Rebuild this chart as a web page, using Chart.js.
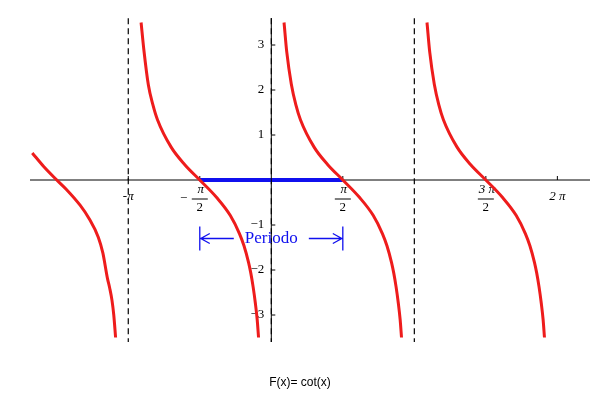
<!DOCTYPE html>
<html>
<head>
<meta charset="utf-8">
<script src="https://cdn.jsdelivr.net/npm/chart.js@4/dist/chart.umd.min.js"></script>
<style>
  body { margin: 0; background: #fff; }
  #wrap { width: 603px; height: 405px; }
</style>
</head>
<body>
<div id="wrap"><canvas id="c"></canvas></div>
<script>
const PI = Math.PI;

// branches of cot(x)
const branch1X = [-5.25, -5.0, -4.712, -4.5, -4.2, -4.0, -3.8, -3.7, -3.6, -3.55, -3.5, -3.46, -3.42];
const branch1Y = [0.60, 0.30, 0, -0.21, -0.56, -0.86, -1.27, -1.62, -2.18, -2.4, -2.67, -3.0, -3.5];
const branch2X = [-2.86, -2.8, -2.7, -2.6, -2.5, -2.2, -1.9, -1.571, -1.2, -0.9, -0.7, -0.6, -0.5, -0.45, -0.4, -0.35, -0.31, -0.28];
const branch2Y = [3.5, 2.9, 2.11, 1.67, 1.34, 0.73, 0.34, 0, -0.39, -0.79, -1.19, -1.46, -1.83, -2.07, -2.37, -2.74, -3.1, -3.5];
const branch3X = [0.28, 0.34, 0.44, 0.54, 0.64, 0.94, 1.24, 1.571, 1.94, 2.24, 2.44, 2.54, 2.64, 2.69, 2.74, 2.79, 2.83, 2.86];
const branch3Y = [3.5, 2.84, 2.13, 1.67, 1.34, 0.73, 0.34, 0, -0.39, -0.79, -1.19, -1.46, -1.83, -2.07, -2.37, -2.74, -3.1, -3.5];
const branch4X = [3.42, 3.48, 3.58, 3.68, 3.78, 4.08, 4.38, 4.712, 5.08, 5.38, 5.58, 5.68, 5.78, 5.83, 5.88, 5.93, 5.97, 6.0];
const branch4Y = [3.5, 2.84, 2.13, 1.67, 1.34, 0.73, 0.34, 0, -0.39, -0.79, -1.19, -1.46, -1.83, -2.07, -2.37, -2.74, -3.1, -3.5];

const asymptotes = [-PI, 0, PI];
const periodStart = -PI / 2, periodEnd = PI / 2, periodY = -1.3;
const yTicks = [3, 2, 1, -1, -2, -3];
const xTicks = [
  { v: -PI, num: "-\u03c0" },
  { v: -PI / 2, sign: "\u2212", num: "\u03c0", den: "2" },
  { v: PI / 2, num: "\u03c0", den: "2" },
  { v: 3 * PI / 2, num: "3 \u03c0", den: "2" },
  { v: 2 * PI, num: "2 \u03c0" }
];

const pts = (xs, ys) => xs.map((x, i) => ({ x, y: ys[i] }));
const red = d => ({ data: d, borderColor: "#ee1c1c", borderWidth: 3, pointRadius: 0, cubicInterpolationMode: "monotone", fill: false });

const datasets = [
  red(pts(branch1X, branch1Y)),
  red(pts(branch2X, branch2Y)),
  red(pts(branch3X, branch3Y)),
  red(pts(branch4X, branch4Y)),
  { data: [{ x: periodStart, y: 0 }, { x: periodEnd, y: 0 }], borderColor: "#1010ee", borderWidth: 4, pointRadius: 0 }
];
asymptotes.forEach(a => datasets.push({
  data: [{ x: a, y: -3.65 }, { x: a, y: 3.6 }],
  borderColor: "#000", borderWidth: 1.2, borderDash: [6, 4], pointRadius: 0
}));

const axesPlugin = {
  id: "axes",
  beforeDatasetsDraw(chart) {
    const { ctx, scales: { x, y }, chartArea: a } = chart;
    const x0 = x.getPixelForValue(0), y0 = y.getPixelForValue(0);
    ctx.save();
    ctx.strokeStyle = "#000"; ctx.lineWidth = 1;
    ctx.beginPath(); ctx.moveTo(a.left, y0); ctx.lineTo(a.right, y0); ctx.stroke();
    ctx.fillStyle = "#000";
    ctx.font = "13px 'Liberation Serif', serif";
    ctx.textAlign = "right"; ctx.textBaseline = "middle";
    yTicks.forEach(t => {
      const py = y.getPixelForValue(t);
      ctx.beginPath(); ctx.moveTo(x0, py); ctx.lineTo(x0 + 4, py); ctx.stroke();
      ctx.fillText(t < 0 ? "\u2212" + (-t) : String(t), x0 - 7, py);
    });
    ctx.textAlign = "center"; ctx.textBaseline = "top";
    ctx.font = "italic 13px 'Liberation Serif', serif";
    xTicks.forEach(t => {
      const px = x.getPixelForValue(t.v);
      ctx.beginPath(); ctx.moveTo(px, y0); ctx.lineTo(px, y0 - 4); ctx.stroke();
      if (t.den) {
        ctx.fillText(t.num, px + 1, y0 + 3);
        ctx.beginPath(); ctx.moveTo(px - 8, y0 + 19); ctx.lineTo(px + 8, y0 + 19); ctx.stroke();
        ctx.font = "13px 'Liberation Serif', serif";
        ctx.fillText(t.den, px, y0 + 21);
        if (t.sign) ctx.fillText(t.sign, px - 16, y0 + 12);
        ctx.font = "italic 13px 'Liberation Serif', serif";
      } else {
        ctx.fillText(t.num, px, y0 + 10);
      }
    });
    ctx.restore();
  },
  afterDatasetsDraw(chart) {
    const { ctx, scales: { x, y } } = chart;
    const x0 = x.getPixelForValue(0);
    ctx.save();
    ctx.strokeStyle = "#000"; ctx.lineWidth = 1;
    ctx.beginPath(); ctx.moveTo(x0, chart.chartArea.top); ctx.lineTo(x0, chart.chartArea.bottom); ctx.stroke();
    // period arrow
    const xa = x.getPixelForValue(periodStart), xb = x.getPixelForValue(periodEnd), py = y.getPixelForValue(periodY);
    ctx.strokeStyle = "#1010ee"; ctx.fillStyle = "#1010ee"; ctx.lineWidth = 1.3;
    ctx.beginPath();
    ctx.moveTo(xa, py - 12); ctx.lineTo(xa, py + 12);
    ctx.moveTo(xb, py - 12); ctx.lineTo(xb, py + 12);
    ctx.moveTo(xa, py); ctx.lineTo(xa + 34, py);
    ctx.moveTo(xb - 34, py); ctx.lineTo(xb, py);
    ctx.moveTo(xa + 10, py - 5); ctx.lineTo(xa + 1, py); ctx.lineTo(xa + 10, py + 5);
    ctx.moveTo(xb - 10, py - 5); ctx.lineTo(xb - 1, py); ctx.lineTo(xb - 10, py + 5);
    ctx.stroke();
    ctx.font = "17px 'Liberation Serif', serif";
    ctx.textAlign = "center"; ctx.textBaseline = "middle";
    ctx.fillText("Periodo", (xa + xb) / 2, py);
    // caption
    ctx.fillStyle = "#000";
    ctx.font = "12px 'Liberation Sans', Arial, sans-serif";
    ctx.fillText("F(x)= cot(x)", 300, 383);
    ctx.restore();
  }
};

new Chart(document.getElementById("c"), {
  type: "line",
  data: { datasets },
  options: {
    responsive: true,
    maintainAspectRatio: false,
    animation: false,
    layout: { padding: { left: 30, right: 13, top: 18, bottom: 63 } },
    plugins: { legend: { display: false }, tooltip: { enabled: false } },
    scales: {
      x: { type: "linear", min: -5.3, max: 7.0, display: false },
      y: { type: "linear", min: -3.6, max: 3.6, display: false }
    }
  },
  plugins: [axesPlugin]
});
</script>
</body>
</html>
